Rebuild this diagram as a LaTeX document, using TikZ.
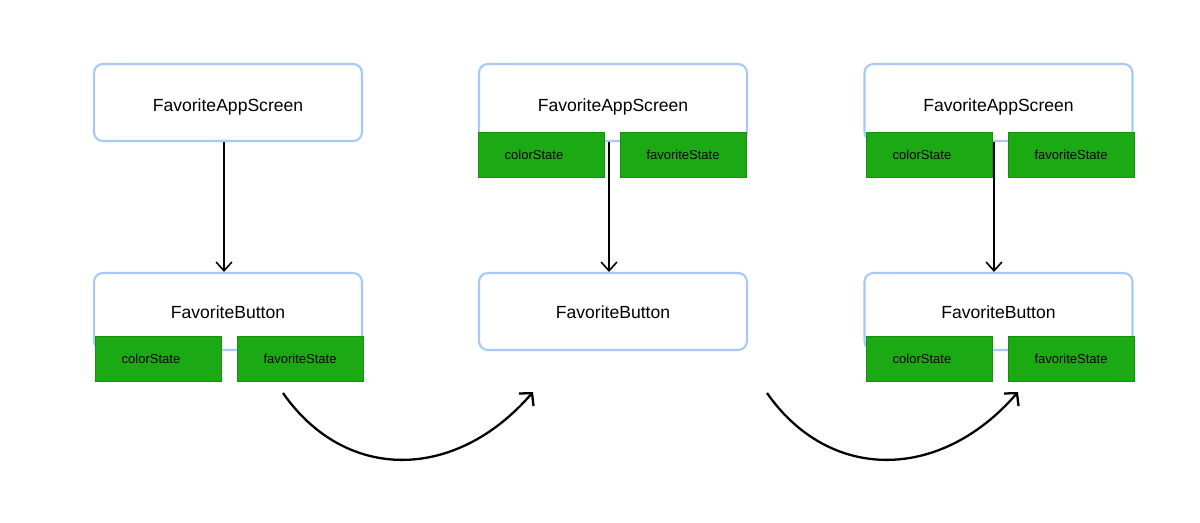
\documentclass[tikz,border=0pt]{standalone}
\usepackage{fontspec}
\setmainfont{Liberation Sans}
\usetikzlibrary{positioning, arrows.meta}

\definecolor{compborder}{RGB}{168,200,250}
\definecolor{statefill}{RGB}{27,170,20}

\tikzset{
    compbox/.style={
        draw=compborder,
        line width=1.2pt,
        rectangle,
        rounded corners=5pt,
        fill=white,
        minimum width=5.36cm,
        minimum height=1.54cm,
        inner sep=0pt,
        text depth=0pt,
        text height=8.3pt,
        font=\fontsize{10}{12}\selectfont
    },
    screenbox/.style={
        compbox,
        text height=10.7pt
    },
    statebox/.style={
        draw=statefill!85!black,
        line width=0.3pt,
        rectangle,
        fill=statefill,
        minimum width=2.52cm,
        minimum height=0.9cm,
        inner sep=0pt,
        font=\fontsize{7.4}{9}\selectfont
    },
    flow/.style={
        draw=black,
        line width=0.9pt,
        -{Straight Barb[length=5pt, width=9pt]}
    },
    hop/.style={
        draw=black,
        line width=1.3pt,
        -{Straight Barb[length=5pt, width=11pt]}
    }
}

\begin{document}
\begin{tikzpicture}[x=0.02cm, y=-0.02cm]
    \useasboundingbox (0,0) rectangle (1200,522);

    % left column: state kept in the button
    \node[screenbox] (screenA) at (228,102.5) {FavoriteAppScreen};
    \node[compbox] (buttonA) at (228,311.5) {FavoriteButton};
    \node[statebox] (colorA) at (158,359) {colorState\hspace*{0.28cm}};
    \node[statebox] (favA) at (300,359) {favoriteState};

    % middle column: state hoisted to the screen
    \node[screenbox] (screenB) at (613,102.5) {FavoriteAppScreen};
    \node[compbox] (buttonB) at (613,311.5) {FavoriteButton};
    \node[statebox] (colorB) at (541,154.5) {colorState\hspace*{0.28cm}};
    \node[statebox] (favB) at (683,154.5) {favoriteState};

    % right column: state in both
    \node[screenbox] (screenC) at (998.5,102.5) {FavoriteAppScreen};
    \node[compbox] (buttonC) at (998.5,311.5) {FavoriteButton};
    \node[statebox] (colorC) at (929,154.5) {colorState\hspace*{0.28cm}};
    \node[statebox] (favC) at (1071,154.5) {favoriteState};
    \node[statebox] (colorD) at (929,359) {colorState\hspace*{0.28cm}};
    \node[statebox] (favD) at (1071,359) {favoriteState};

    \draw[flow] (screenA.south -| 224,0) -- (buttonA.north -| 224,0);
    \draw[flow] (screenB.south -| 609,0) -- (buttonB.north -| 609,0);
    \draw[flow] (screenC.south -| 994,0) -- (buttonC.north -| 994,0);

    % transitions
    \coordinate (goA) at (283,393);
    \coordinate (goB) at (533,392);
    \coordinate (goC) at (767,393);
    \coordinate (goD) at (1018,392);
    \draw[hop] (goA) .. controls (345,482) and (455,482) .. (goB);
    \draw[hop] (goC) .. controls (829,482) and (940,482) .. (goD);
\end{tikzpicture}
\end{document}
